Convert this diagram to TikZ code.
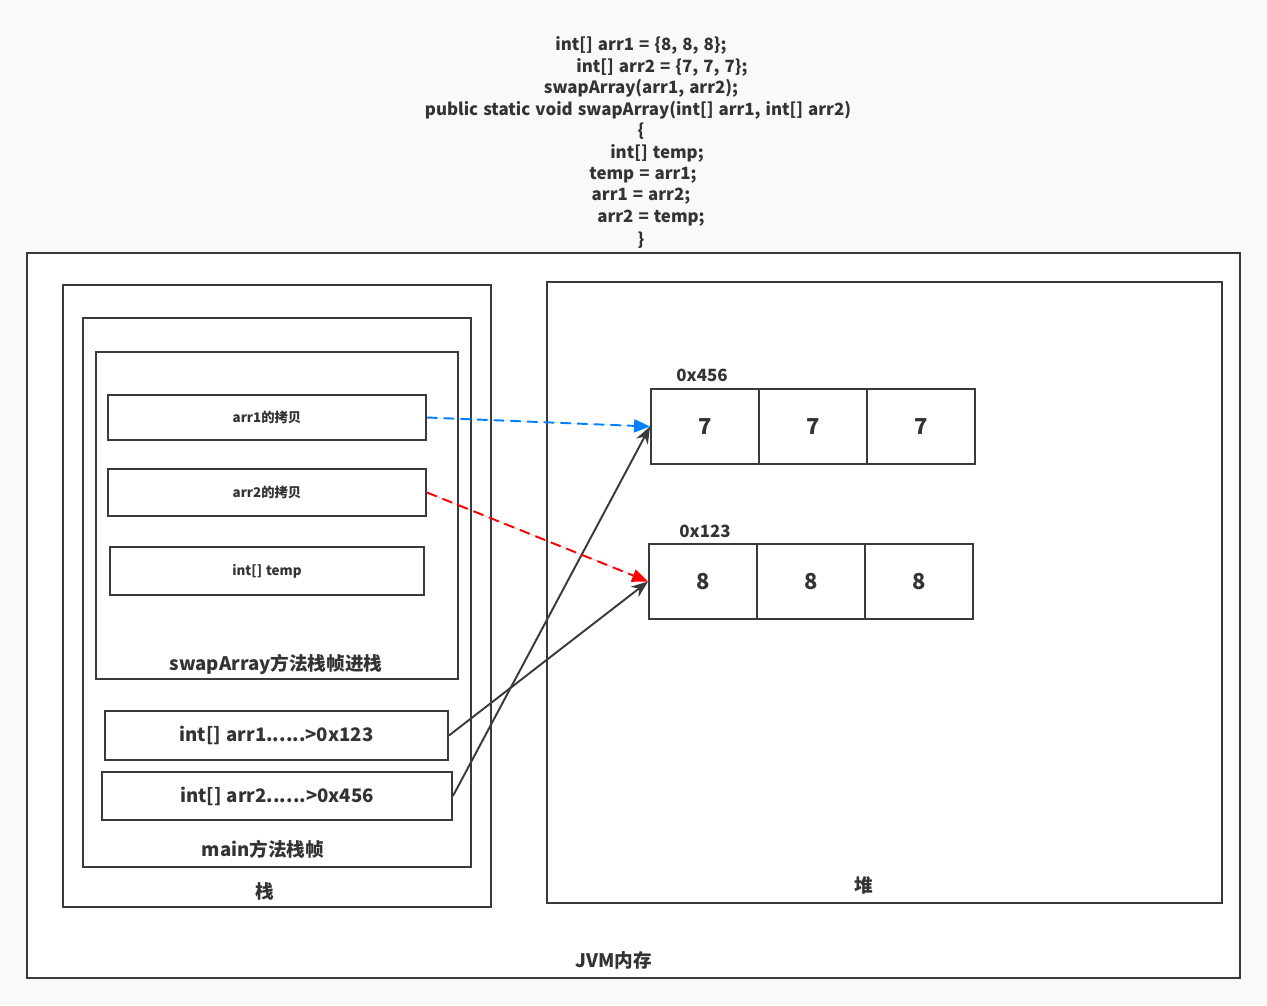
\documentclass[tikz,border=0pt]{standalone}
\usepackage{fontspec}
\setmainfont{Noto Sans CJK SC}[WordSpace=1.3]
\usetikzlibrary{arrows.meta}
\definecolor{txt}{HTML}{333333}
\definecolor{linec}{HTML}{3A3A3A}
\definecolor{bg}{HTML}{F9F9F9}
\definecolor{bluec}{HTML}{007FFF}

\begin{document}
\begin{tikzpicture}[x=0.02cm, y=-0.02cm, line width=1.1pt, text=txt,
  font=\bfseries,
  box/.style={draw=linec, fill=white, inner sep=0pt},
  code/.style={font=\fontsize{9.6}{12}\selectfont\bfseries},
  small/.style={font=\fontsize{7.6}{9}\selectfont\bfseries},
  mid/.style={font=\fontsize{10.6}{13}\selectfont\bfseries},
  cell/.style={box, minimum width=2.16cm, minimum height=1.5cm, font=\fontsize{12.5}{14}\selectfont\bfseries},
  ref/.style={->, >={Stealth[length=3.4mm,width=2.6mm]}, draw=linec, fill=linec},
  copyref/.style={->, >={Triangle[length=3.2mm,width=2.6mm]}, dashed, dash pattern=on 6pt off 3.5pt}]

\fill[bg] (0,0) rectangle (1267,1005);
\useasboundingbox (0,0) rectangle (1267,1005);

% code
\node[code] (l1) at (641,45) {int[] arr1 = \{8, 8, 8\};};
\node[code] (l2) at (662,67) {int[] arr2 = \{7, 7, 7\};};
\node[code] (l3) at (641,88) {swapArray(arr1, arr2);};
\node[code] (l4) at (638,110) {public static void swapArray(int[] arr1, int[] arr2)};
\node[code] (l5) at (641,131) {\{};
\node[code] (l6) at (657,153) {int[] temp;};
\node[code] (l7) at (643,175) {temp = arr1;};
\node[code] (l8) at (641,196) {arr1 = arr2;};
\node[code] (l9) at (651,218) {arr2 = temp;};
\node[code] (l10) at (641,240) {\}};

% memory
\node[box, minimum width=24.26cm, minimum height=14.5cm] (jvm) at (633.5,615.5) {};
\node[mid] (jvmlabel) at (614,960) {JVM内存};

% stack
\node[box, minimum width=8.56cm, minimum height=12.44cm] (stack) at (277,596) {};
\node[mid] (stacklabel) at (265,891) {栈};
\node[box, minimum width=7.76cm, minimum height=10.98cm] (mainframe) at (277,592.5) {};
\node[mid] (mainlabel) at (263,849) {main方法栈帧};
\node[box, minimum width=7.24cm, minimum height=6.54cm] (swapframe) at (277,515.5) {};
\node[mid] (swaplabel) at (276,664) {swapArray方法栈帧进栈};

\node[box, small, minimum width=6.36cm, minimum height=0.9cm] (copy1) at (267,417.5) {arr1的拷贝};
\node[box, small, minimum width=6.36cm, minimum height=0.94cm] (copy2) at (267,492.5) {arr2的拷贝};
\node[box, small, minimum width=6.28cm, minimum height=0.96cm] (temp) at (267,571) {int[] temp};

\node[box, mid, minimum width=6.86cm, minimum height=0.98cm] (ref1) at (276.5,735.5) {int[] arr1......>0x123};
\node[box, mid, minimum width=7cm, minimum height=0.96cm] (ref2) at (277,796) {int[] arr2......>0x456};

% heap
\node[box, minimum width=13.5cm, minimum height=12.42cm] (heap) at (884.5,592.5) {};
\node[mid] (heaplabel) at (864,885) {堆};

\node[code] (addr456) at (702,375) {0x456};
\foreach \i/\x in {1/705,2/813,3/921}
  \node[cell] (top\i) at (\x,426.5) {7};
\node[code] (addr123) at (705,531) {0x123};
\foreach \i/\x in {1/703,2/811,3/919}
  \node[cell] (bot\i) at (\x,581.5) {8};

% references
\draw[ref] (ref1.east) -- (bot1.west);
\draw[ref] (ref2.east) -- (top1.west);
\draw[copyref, draw=bluec, fill=bluec] (copy1.east) -- (top1.west);
\draw[copyref, draw=red, fill=red] (copy2.east) -- (bot1.west);
\end{tikzpicture}
\end{document}
